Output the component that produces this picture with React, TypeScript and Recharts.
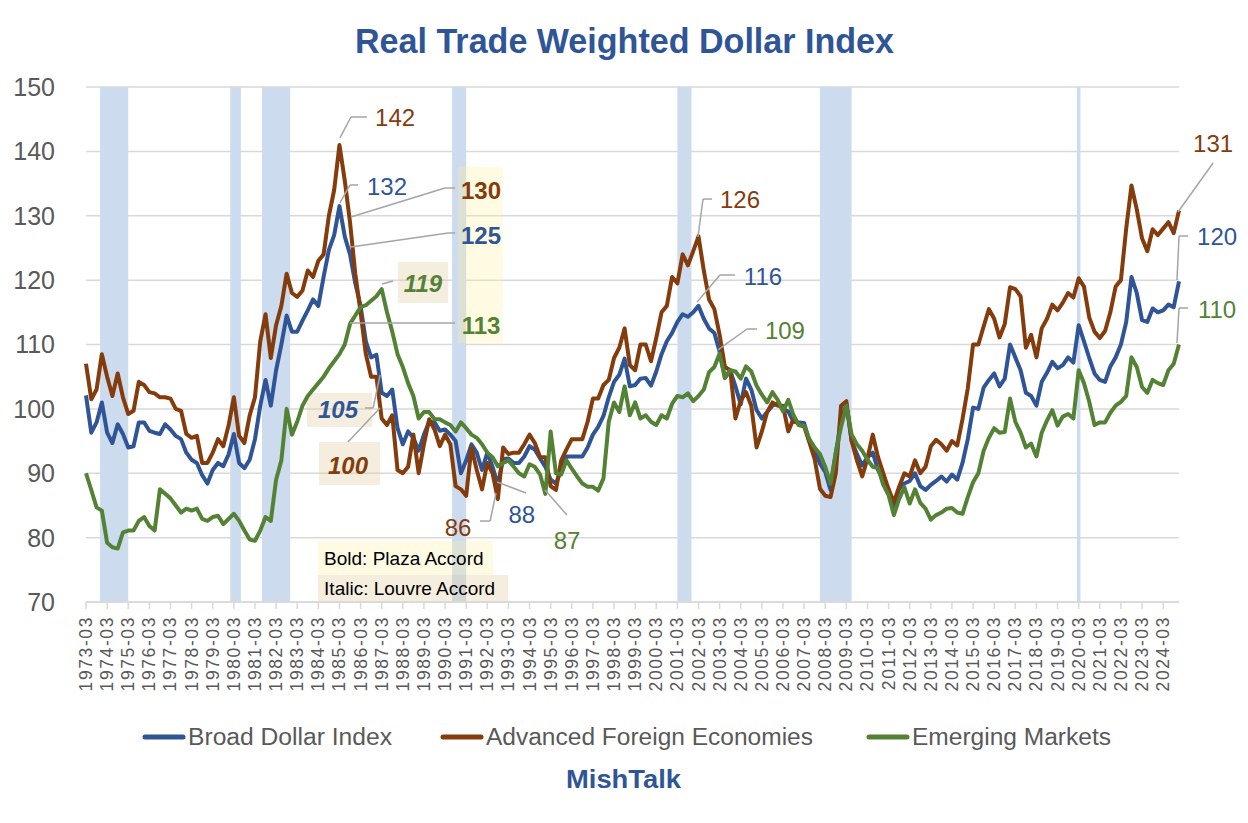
import {
  LineChart,
  Line,
  XAxis,
  YAxis,
  CartesianGrid,
  Legend,
  ReferenceArea,
  ReferenceLine,
  ReferenceDot,
} from "recharts";

const BLUE = "#2F5597";
const BROWN = "#843C0C";
const GREEN = "#548235";
const AXIS_TEXT = "#595959";
const GRID = "#D9D9D9";
const LEADER = "#A5A5A5";
const BAND = "#CDDBEE";
const PLAZA = "#FFEFA0";
const LOUVRE = "#E2CFA0";
const SANS = '"Liberation Sans", Arial, sans-serif';
const NARROW = '"Liberation Sans Narrow", "Arial Narrow", "Liberation Sans", sans-serif';

// quarterly readings, 1973-03 .. 2024-12
const quarters: string[] = [];
for (let y = 1973; y <= 2024; y++) {
  for (const m of ["03", "06", "09", "12"]) quarters.push(`${y}-${m}`);
}
const yearTicks = quarters.filter((q) => q.endsWith("-03"));

const broad = [
  102.1, 96.3, 97.9, 101, 96.3, 94.7, 97.6, 96.1,
  94, 94.2, 97.9, 97.9, 96.6, 96.3, 96.1, 97.6,
  96.8, 95.8, 95.3, 93.2, 92.1, 91.6, 89.7, 88.4,
  90.5, 91.6, 91.1, 92.9, 96.1, 91.6, 90.8, 92.1,
  95.3, 100.5, 104.5, 100.5, 106, 110, 114.5, 112,
  112, 113.7, 115.3, 117, 116, 120.5, 124.7, 127,
  131.5, 126.8, 124, 119.5, 116, 110.5, 108, 108.4,
  102.5, 102, 103, 97, 94.5, 96.5, 95.5, 93.5,
  96, 98, 97.9, 96.6, 96.8, 96, 95, 90,
  92, 94.5, 93.2, 90.5, 93.2, 91, 88.2, 92.2,
  92.3, 91.6, 91.6, 92.6, 94.2, 93.7, 92.3, 91,
  89, 88.4, 90.5, 92.6, 92.6, 92.6, 92.6, 94,
  96, 97.2, 98.9, 101.8, 104.2, 105.3, 107.8, 103.5,
  103.7, 104.7, 104.8, 103.6, 105.8, 108.5, 110.5, 111.8,
  113.5, 114.7, 114.3, 115, 116, 114, 112.5, 111.8,
  108.9, 104.8, 106, 103.5, 100.7, 104.7, 103, 99.8,
  98.5, 99.5, 100.5, 100.8, 100, 99.6, 98, 97.9,
  97.8, 95, 93.6, 91.5, 90.2, 87.4, 93.2, 98,
  100.8, 95, 93, 91.2, 92.5, 93.2, 90.5, 89,
  87.5, 84.6, 87.6, 88.4, 88.8, 90, 88, 87.4,
  88.2, 88.8, 89.5, 88.7, 89.8, 89, 91.6, 95.3,
  100.2, 100, 103.3, 104.5, 105.5, 103.5, 104.7, 110,
  108, 106, 102.5, 102, 100.5, 104.2, 105.6, 107.3,
  106.3, 106.8, 108, 107.2, 113, 110.5, 107.9, 105.5,
  104.5, 104.2, 106.6, 108, 110, 113.5, 120.5, 118,
  113.8, 113.5, 115.6, 115, 115.3, 116.2, 115.8, 119.8,
];

const afe = [
  107, 101.5, 103, 108.5, 105, 102, 105.5, 101.8,
  99.2, 99.7, 104.2, 103.7, 102.6, 102.4, 101.8, 101.8,
  101.6, 100, 99.7, 96.1, 95.5, 95.8, 91.6, 91.6,
  93.2, 95.3, 94.2, 97.4, 101.8, 95.8, 94.7, 99,
  101.8, 110.5, 114.7, 107.9, 113, 116, 121, 118,
  117.4, 118.4, 121.5, 120.5, 123, 124, 130, 134,
  141, 135.5, 129, 121, 115, 108.5, 105, 105,
  98.5, 97.5, 99, 90.5, 90, 91, 96, 90,
  94.5, 98.4, 96.8, 94.2, 96, 94.5, 88, 87.5,
  86.5, 94, 90.5, 87.5, 91.6, 90, 86, 94,
  93, 93.2, 93.2, 94.5, 96, 94.7, 92.5, 92.5,
  88, 87.4, 92, 93.7, 95.3, 95.3, 95.3, 98,
  101.6, 101.6, 103.7, 104.5, 107.9, 109.5, 112.5, 106.8,
  106, 110, 110, 107.4, 111, 115, 116, 120.5,
  119.5, 124, 122.3, 124.5, 126.8, 121.5, 117, 115.5,
  111.5, 106.5, 106, 98.5, 101.3, 102.6, 100.5, 94,
  96.5, 99.5, 101, 100.5, 100.5, 96.5, 98.5, 97.5,
  97.3, 94.8, 92.2, 87.6, 86.5, 86.3, 90, 100.5,
  101.2, 95, 92, 89.5, 92.3, 96, 92.5, 90,
  87.5, 85.5, 87.9, 90, 89.5, 92, 90, 91,
  94.2, 95.2, 94.5, 93.5, 95, 94.3, 98.4, 103.2,
  110, 110, 112.8, 115.5, 114, 111.1, 113.2, 118.9,
  118.6, 117.5, 109.5, 111.5, 108, 112.5, 114, 116.2,
  115.3, 116.5, 118, 117.3, 120.3, 119, 114.2, 112,
  111, 112.1, 115, 119, 120, 128, 134.7, 131,
  126.5, 124.5, 127.9, 127, 128, 129, 127.3, 130.8,
];

const em = [
  90, 87.4, 84.7, 84.2, 79.2, 78.5, 78.3, 80.8,
  81.1, 81.1, 82.6, 83.2, 81.8, 81.1, 87.5, 86.8,
  86.1, 85, 83.9, 84.5, 84.2, 84.5, 82.9, 82.6,
  83.2, 83.4, 82.1, 82.9, 83.7, 82.6, 81.1, 79.7,
  79.5, 81.1, 83.2, 82.6, 89, 92, 100, 96,
  98, 100.5, 102, 103, 104, 105, 106.3, 107.4,
  108.5, 110, 113.2, 114.5, 115.8, 116.1, 116.8, 117.5,
  118.6, 115, 112, 108.5, 106.5, 104, 102, 98.5,
  99.5, 99.5, 98.4, 98.4, 97.9, 97.5, 96.5, 97.9,
  97, 96, 95.5, 94.5, 93.2, 92.5, 91.1, 91.6,
  92, 91, 90, 89.5, 91.4, 91, 89.8, 86.8,
  96.5, 90, 89.8, 92, 90.7, 89.5, 88.4, 87.9,
  87.9, 87.3, 89.2, 98, 101, 99.5, 103.5, 99,
  101, 98.5, 99, 98, 97.5, 99, 98.5, 100.8,
  102, 101.8, 102.4, 101.2, 102, 103, 105.7, 106.5,
  108.6, 104.8, 106, 105.8, 104.7, 106.6, 105.8, 103.6,
  102.2, 101, 102.6, 101.4, 99.6, 101.4, 99, 97.5,
  97.4, 95.3, 94, 93, 91, 88.4, 93.2, 97.2,
  100.5, 96, 94.5, 93.5, 92.1, 91, 90.8, 88.2,
  86.6, 83.5, 86, 87.8, 85.3, 87.5, 85.4, 84.5,
  82.8, 83.5, 83.9, 84.5, 84.6, 83.9, 83.7, 86.3,
  88.6, 90, 93.5, 95.5, 97, 96.3, 96.4, 101.6,
  98, 96.3, 94, 94.6, 92.6, 96.3, 98.2, 99.8,
  97.4, 98.8, 99.2, 98.5, 106, 104, 101.1, 97.5,
  97.9, 97.9, 99.4, 100.5, 101.1, 102, 108, 106.5,
  103.4, 102.5, 104.5, 104, 103.7, 106, 107, 110,
];

const recessions: [string, string][] = [
  ["1973-11", "1975-03"],
  ["1980-01", "1980-07"],
  ["1981-07", "1982-11"],
  ["1990-07", "1991-03"],
  ["2001-03", "2001-11"],
  ["2007-12", "2009-06"],
  ["2020-02", "2020-04"],
];

const toT = (label: string) => {
  const [y, m] = label.split("-").map(Number);
  return y + (m - 1) / 12;
};

const data = quarters.map((q, i) => ({ t: toT(q), broad: broad[i], afe: afe[i], em: em[i] }));
const tickValues = yearTicks.map(toT);
const tickText = new Map(yearTicks.map((q) => [toT(q).toFixed(3), q]));
const T_MIN = toT(quarters[0]);
const T_MAX = toT(quarters[quarters.length - 1]);

type Callout = {
  text: string;
  color: string;
  at: [number, number];
  leader: [number, number][];
  bold?: boolean;
  italic?: boolean;
};

// label centre and leader path, in chart units (year, index)
const callouts: Callout[] = [
  { text: "142", color: BROWN, at: [1987.8, 145.2], leader: [[1985.19, 142.1], [1985.71, 145.34], [1986.47, 145.34]] },
  { text: "132", color: BLUE, at: [1987.42, 134.62], leader: [[1985.19, 132.0], [1985.67, 134.78], [1986.05, 134.78]] },
  { text: "130", color: BROWN, bold: true, at: [1991.87, 134.0], leader: [[1985.71, 129.81], [1990.16, 134.31], [1990.64, 134.31]] },
  { text: "125", color: BLUE, bold: true, at: [1991.87, 127.0], leader: [[1985.71, 125.15], [1990.31, 127.32], [1990.64, 127.32]] },
  { text: "113", color: GREEN, bold: true, at: [1991.87, 113.03], leader: [[1985.67, 113.34], [1990.64, 113.34]] },
  { text: "119", color: GREEN, bold: true, italic: true, at: [1989.12, 119.55], leader: [[1987.18, 119.4], [1987.7, 119.86]] },
  { text: "105", color: BLUE, bold: true, italic: true, at: [1985.1, 99.83], leader: [[1987.09, 105.26], [1986.76, 100.14], [1986.38, 100.14]] },
  { text: "100", color: BROWN, bold: true, italic: true, at: [1985.57, 91.28], leader: [[1987.09, 100.14], [1985.57, 94.85]] },
  { text: "86", color: BROWN, at: [1990.78, 81.65], leader: [[1992.58, 86.93], [1992.3, 82.58], [1991.82, 82.58]] },
  { text: "88", color: BLUE, at: [1993.8, 83.67], leader: [[1992.63, 88.64], [1994.0, 86.93]] },
  { text: "87", color: GREEN, at: [1995.94, 79.63], leader: [[1994.9, 87.4], [1995.94, 83.51]] },
  { text: "126", color: BROWN, at: [2004.13, 132.45], leader: [[2002.14, 126.7], [2002.38, 132.6], [2002.81, 132.6]] },
  { text: "116", color: BLUE, at: [2005.22, 120.64], leader: [[2002.1, 116.6], [2003.18, 120.8], [2003.9, 120.8]] },
  { text: "109", color: GREEN, at: [2006.26, 112.25], leader: [[2003.09, 109.15], [2004.46, 112.41], [2004.94, 112.41]] },
  { text: "131", color: BROWN, at: [2026.53, 141.15], leader: [[2024.87, 130.58], [2026.53, 138.19]] },
  { text: "120", color: BLUE, at: [2026.72, 126.85], leader: [[2024.82, 120.02], [2024.92, 126.85], [2025.35, 126.85]] },
  { text: "110", color: GREEN, at: [2026.72, 115.51], leader: [[2024.82, 110.23], [2024.92, 115.67], [2025.35, 115.67]] },
];

const boxes = [
  { x: [1990.78, 1992.91], y: [110.2, 137.6], fill: PLAZA, op: 0.3 },
  { x: [1987.94, 1990.31], y: [116.45, 122.82], fill: LOUVRE, op: 0.35 },
  { x: [1983.63, 1986.71], y: [97.19, 102.47], fill: LOUVRE, op: 0.35 },
  { x: [1984.2, 1987.09], y: [88.18, 94.85], fill: LOUVRE, op: 0.35 },
  { x: [1984.15, 1992.44], y: [74.19, 79.48], fill: PLAZA, op: 0.3 },
  { x: [1984.15, 1993.15], y: [70, 74.19], fill: LOUVRE, op: 0.35 },
];

const notes = [
  { text: "Bold: Plaza Accord", at: [1984.44, 76.84] },
  { text: "Italic: Louvre Accord", at: [1984.44, 72.1] },
];

const legendSlots: Record<string, { x: number; w: number }> = {
  broad: { x: 143, w: 204 },
  afe: { x: 441, w: 327 },
  em: { x: 867, w: 199 },
};

function YearTick({ x, y, payload }: any) {
  const label = tickText.get(Number(payload.value).toFixed(3)) ?? "";
  return (
    <text
      x={x}
      y={y}
      transform={`rotate(-90 ${x} ${y})`}
      textAnchor="end"
      dominantBaseline="central"
      fill={AXIS_TEXT}
      fontSize={17.5}
      letterSpacing={1.6}
      fontFamily={SANS}
    >
      {label}
    </text>
  );
}

function renderLegend(props: any) {
  const items = props.payload ?? [];
  return (
    <svg width={1248} height={82} style={{ display: "block", overflow: "visible" }}>
      {items.map((item: any) => {
        const slot = legendSlots[item.dataKey];
        if (!slot) return null;
        return (
          <g key={item.dataKey}>
            <line x1={slot.x + 2} x2={slot.x + 40} y1={19} y2={19} stroke={item.color} strokeWidth={5} strokeLinecap="round" />
            <text
              x={slot.x + 45}
              y={19}
              dominantBaseline="central"
              fill={AXIS_TEXT}
              fontSize={23}
              fontFamily={NARROW}
              textLength={slot.w}
              lengthAdjust="spacingAndGlyphs"
            >
              {item.value}
            </text>
          </g>
        );
      })}
      <text
        x={623.5}
        y={61}
        textAnchor="middle"
        dominantBaseline="central"
        fill={BLUE}
        fontSize={25}
        fontWeight="bold"
        fontFamily={NARROW}
        textLength={115}
        lengthAdjust="spacingAndGlyphs"
      >
        MishTalk
      </text>
    </svg>
  );
}

export default function App() {
  return (
    <div style={{ position: "absolute", left: 0, top: 0, width: 1248, height: 823, background: "#fff" }}>
      <svg width={1248} height={80} style={{ position: "absolute", left: 0, top: 0 }}>
        <text
          x={624.5}
          y={53}
          textAnchor="middle"
          fill={BLUE}
          fontSize={35}
          fontWeight="bold"
          fontFamily={NARROW}
          textLength={539}
          lengthAdjust="spacingAndGlyphs"
        >
          Real Trade Weighted Dollar Index
        </text>
      </svg>
      <LineChart width={1248} height={823} data={data} margin={{ top: 87, right: 69, bottom: 23, left: 0 }}>
        <CartesianGrid vertical={false} stroke={GRID} strokeWidth={1.5} />
        <XAxis
          dataKey="t"
          type="number"
          domain={[T_MIN, T_MAX]}
          ticks={tickValues}
          interval={0}
          height={116}
          tickSize={7}
          tickMargin={7}
          axisLine={{ stroke: GRID, strokeWidth: 1.5 }}
          tickLine={{ stroke: GRID, strokeWidth: 1.5 }}
          tick={<YearTick />}
        />
        <YAxis
          domain={[70, 150]}
          ticks={[70, 80, 90, 100, 110, 120, 130, 140, 150]}
          width={86}
          axisLine={false}
          tickLine={false}
          tickSize={0}
          tickMargin={31}
          tick={{ fill: AXIS_TEXT, fontSize: 25, fontFamily: SANS }}
        />
        {recessions.map(([a, b]) => (
          <ReferenceArea
            key={a}
            x1={toT(a)}
            x2={toT(b)}
            y1={70}
            y2={150}
            fill={BAND}
            fillOpacity={1}
            stroke="none"
            ifOverflow="hidden"
          />
        ))}
        {boxes.map((b, i) => (
          <ReferenceArea
            key={`box${i}`}
            x1={b.x[0]}
            x2={b.x[1]}
            y1={b.y[0]}
            y2={b.y[1]}
            fill={b.fill}
            fillOpacity={b.op}
            stroke="none"
            ifOverflow="visible"
          />
        ))}
        <Legend verticalAlign="bottom" align="left" content={renderLegend} wrapperStyle={{ left: 0, width: 1248, height: 82, bottom: 23 }} />
        <Line type="linear" dataKey="broad" name="Broad Dollar Index" stroke={BLUE} strokeWidth={4} strokeLinejoin="round" dot={false} activeDot={false} isAnimationActive={false} />
        <Line type="linear" dataKey="afe" name="Advanced Foreign Economies" stroke={BROWN} strokeWidth={4} strokeLinejoin="round" dot={false} activeDot={false} isAnimationActive={false} />
        <Line type="linear" dataKey="em" name="Emerging Markets" stroke={GREEN} strokeWidth={4} strokeLinejoin="round" dot={false} activeDot={false} isAnimationActive={false} />
        {callouts.flatMap((c) =>
          c.leader.slice(1).map((p, k) => (
            <ReferenceLine
              key={`${c.text}-${c.color}-seg${k}`}
              segment={[
                { x: c.leader[k][0], y: c.leader[k][1] },
                { x: p[0], y: p[1] },
              ]}
              stroke={LEADER}
              strokeWidth={1.5}
              ifOverflow="visible"
            />
          ))
        )}
        {callouts.map((c) => (
          <ReferenceDot
            key={`${c.text}-${c.color}`}
            x={c.at[0]}
            y={c.at[1]}
            r={0}
            fill="none"
            stroke="none"
            ifOverflow="visible"
            label={{
              value: c.text,
              position: "center",
              fill: c.color,
              fontSize: 24,
              fontFamily: SANS,
              fontWeight: c.bold ? "bold" : "normal",
              fontStyle: c.italic ? "italic" : "normal",
            }}
          />
        ))}
        {notes.map((n) => (
          <ReferenceDot
            key={n.text}
            x={n.at[0]}
            y={n.at[1]}
            r={0}
            fill="none"
            stroke="none"
            ifOverflow="visible"
            label={{ value: n.text, position: "right", offset: 0, fill: "#000", fontSize: 19, fontFamily: SANS }}
          />
        ))}
      </LineChart>
    </div>
  );
}
